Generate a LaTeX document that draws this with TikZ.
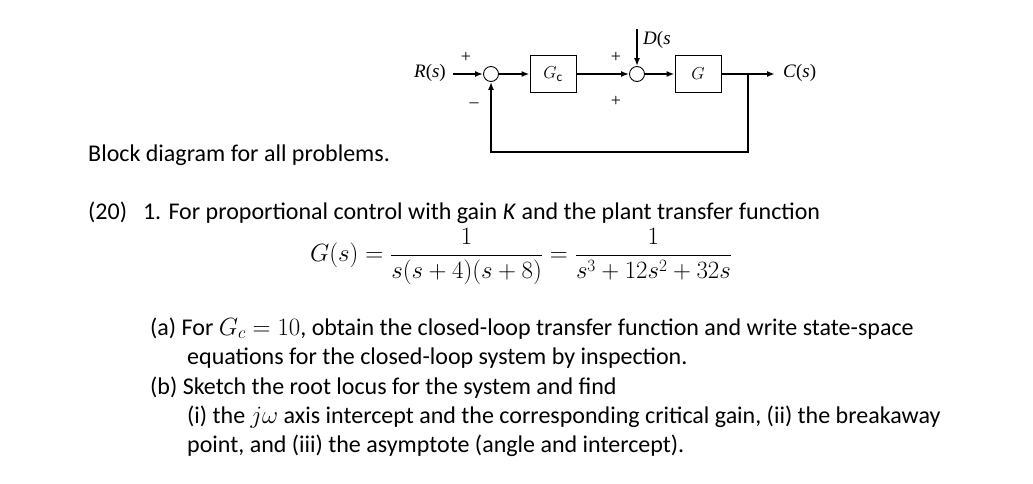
\documentclass[tikz,border=0pt]{standalone}
\usepackage{amsmath}
\usepackage{fontspec}
\setmainfont{Carlito}
\newfontfamily\tnr{Liberation Serif}
\usetikzlibrary{arrows.meta}
\begin{document}
\begin{tikzpicture}[x=1pt,y=-1pt,
  blk/.style={draw,line width=1pt,minimum width=46pt,minimum height=37pt,inner sep=0pt,font=\tnr\fontsize{19}{22}\selectfont},
  sumj/.style={draw,circle,line width=0.9pt,minimum size=15pt,inner sep=0pt},
  sig/.style={line width=1.6pt,-{Latex[length=8pt,width=6pt]}},
  lbl/.style={font=\tnr\fontsize{19}{22}\selectfont,inner sep=0pt},
  sgn/.style={font=\tnr\fontsize{18}{20}\selectfont,inner sep=0pt},
  txt/.style={anchor=base west,inner sep=0pt,font=\fontsize{24}{28}\selectfont}]
\useasboundingbox (0,0) rectangle (1033,484);
\node[sumj] (s1) at (491,74) {};
\node[blk] (gc) at (553,74) {$G_{\mathrm{c}}$};
\node[sumj] (s2) at (637,74) {};
\node[blk] (g) at (698,74) {$G$};
\node[lbl,anchor=east] (r) at (446,73) {\textit{R}(\textit{s})};
\node[lbl,anchor=west] (c) at (783,73) {\textit{C}(\textit{s})};
\coordinate (rs) at (453,74);
\coordinate (ce) at (775,74);
\coordinate (tap) at (748,74);
\coordinate (bot) at (748,152);
\coordinate (dtop) at (637,29);
\node[lbl,anchor=west] (d) at (643,40) {\textit{D}(\textit{s}};
\draw[sig] (rs) -- (s1);
\draw[sig] (s1) -- (gc);
\draw[sig] (gc) -- (s2);
\draw[sig] (s2) -- (g);
\draw[sig] (g) -- (ce);
\draw[sig] (dtop) -- (s2);
\draw[sig] (tap) |- (bot) -| (s1);
\node[sgn] (p1) at (466,57) {+};
\node[sgn] (m1) at (474,105) {\textendash};
\node[sgn] (p2) at (616,57) {+};
\node[sgn] (p3) at (616,101) {+};
\node[txt] (t0) at (88,161) {Block diagram for all problems.};
\node[txt] (t1) at (88,219) {(20)\hspace{16pt}1. For proportional control with gain \textit{K} and the plant transfer function};
\node[anchor=west,inner sep=0pt,font=\fontsize{24}{28}\selectfont] (eq) at (310,257) {$G(s)=\dfrac{1}{s(s+4)(s+8)}=\dfrac{1}{s^3+12s^2+32s}$};
\node[txt] (a1) at (150,335) {(a) For $G_c=10$, obtain the closed-loop transfer function and write state-space};
\node[txt] (a2) at (187,364) {equations for the closed-loop system by inspection.};
\node[txt] (b1) at (150,394) {(b) Sketch the root locus for the system and find};
\node[txt] (b2) at (187,423) {(i) the $j\omega$ axis intercept and the corresponding critical gain, (ii) the breakaway};
\node[txt] (b3) at (187,452) {point, and (iii) the asymptote (angle and intercept).};
\end{tikzpicture}
\end{document}
